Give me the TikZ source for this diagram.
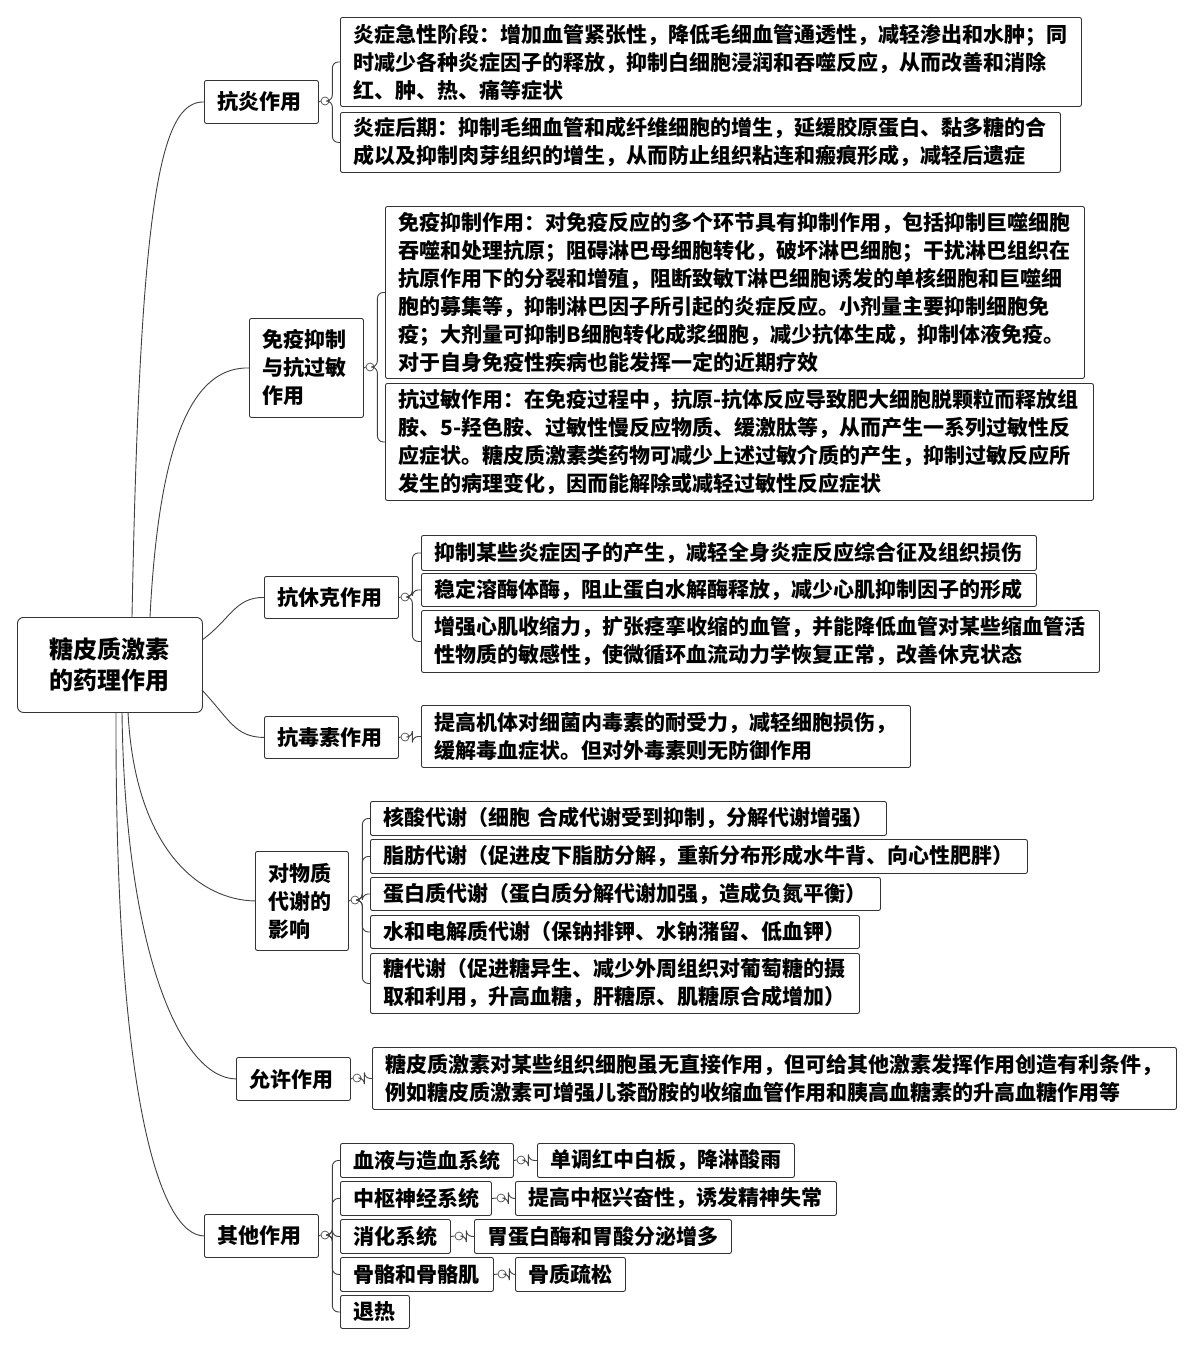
\documentclass[tikz,border=0pt]{standalone}
\usepackage{fontspec}
\setmainfont{Noto Sans CJK SC}
\begin{document}
\begin{tikzpicture}[x=1pt,y=-1pt,
  box/.style={draw=black!80,line width=0.9pt,rounded corners=2pt,inner xsep=13pt,inner ysep=0pt,align=left,font=\fontsize{21}{28}\selectfont\bfseries},
  dot/.style={circle,draw=black!70,line width=0.7pt,inner sep=0pt,minimum size=8pt,fill=white},
  con/.style={draw=black!75,line width=0.9pt}]
\useasboundingbox (0,0) rectangle (1193,1345);
\newcommand\leaf[6]{\pgfmathsetmacro\lw{#4-#2}\pgfmathsetmacro\lh{#5-#3}\pgfmathsetmacro\tw{#4-#2-26}%
\node[box,minimum width=\lw pt,minimum height=\lh pt,text width=\tw pt,anchor=north west] (#1) at (#2,#3) {#6};}
% root
\node[draw=black!80,line width=0.9pt,rounded corners=6pt,minimum width=185pt,minimum height=95pt,align=center,font=\fontsize{24}{31}\selectfont\bfseries,anchor=north west] (root) at (17,617) {糖皮质激素\\的药理作用};
% level 1
\leaf{k1}{204}{80}{318}{123}{抗炎作用}
\leaf{k2}{249}{318}{363}{417}{免疫抑制\\与抗过敏\\作用}
\leaf{k3}{264}{576}{398}{618}{抗休克作用}
\leaf{k4}{264}{716}{398}{758}{抗毒素作用}
\leaf{k5}{255}{851}{348}{950}{对物质\\代谢的\\影响}
\leaf{k6}{236}{1057}{350}{1100}{允许作用}
\leaf{k7}{204}{1214}{318}{1257}{其他作用}
% leaves
\leaf{a}{340}{17}{1081}{106}{炎症急性阶段：增加血管紧张性，降低毛细血管通透性，减轻渗出和水肿；同\\时减少各种炎症因子的释放，抑制白细胞浸润和吞噬反应，从而改善和消除\\红、肿、热、痛等症状}
\leaf{b}{340}{112}{1060}{172}{炎症后期：抑制毛细血管和成纤维细胞的增生，延缓胶原蛋白、黏多糖的合\\成以及抑制肉芽组织的增生，从而防止组织粘连和瘢痕形成，减轻后遗症}
\leaf{c}{385}{206}{1084}{378}{免疫抑制作用：对免疫反应的多个环节具有抑制作用，包括抑制巨噬细胞\\吞噬和处理抗原；阻碍淋巴母细胞转化，破坏淋巴细胞；干扰淋巴组织在\\抗原作用下的分裂和增殖，阻断致敏T淋巴细胞诱发的单核细胞和巨噬细\\胞的募集等，抑制淋巴因子所引起的炎症反应。小剂量主要抑制细胞免\\疫；大剂量可抑制B细胞转化成浆细胞，减少抗体生成，抑制体液免疫。\\对于自身免疫性疾病也能发挥一定的近期疗效}
\leaf{d}{385}{383}{1093}{500}{抗过敏作用：在免疫过程中，抗原-抗体反应导致肥大细胞脱颗粒而释放组\\胺、5-羟色胺、过敏性慢反应物质、缓激肽等，从而产生一系列过敏性反\\应症状。糖皮质激素类药物可减少上述过敏介质的产生，抑制过敏反应所\\发生的病理变化，因而能解除或减轻过敏性反应症状}
\leaf{e}{421}{535}{1036}{570}{抑制某些炎症因子的产生，减轻全身炎症反应综合征及组织损伤}
\leaf{f}{421}{573}{1036}{606}{稳定溶酶体酶，阻止蛋白水解酶释放，减少心肌抑制因子的形成}
\leaf{g}{421}{610}{1099}{672}{增强心肌收缩力，扩张痉挛收缩的血管，并能降低血管对某些缩血管活\\性物质的敏感性，使微循环血流动力学恢复正常，改善休克状态}
\leaf{h}{421}{705}{910}{767}{提高机体对细菌内毒素的耐受力，减轻细胞损伤，\\缓解毒血症状。但对外毒素则无防御作用}
\leaf{i}{370}{801}{886}{835}{核酸代谢（细胞 合成代谢受到抑制，分解代谢增强）}
\leaf{j}{370}{839}{1027}{873}{脂肪代谢（促进皮下脂肪分解，重新分布形成水牛背、向心性肥胖）}
\leaf{k}{370}{877}{880}{910}{蛋白质代谢（蛋白质分解代谢加强，造成负氮平衡）}
\leaf{l}{370}{915}{859}{948}{水和电解质代谢（保钠排钾、水钠潴留、低血钾）}
\leaf{m}{370}{953}{859}{1013}{糖代谢（促进糖异生、减少外周组织对葡萄糖的摄\\取和利用，升高血糖，肝糖原、肌糖原合成增加）}
\leaf{n}{372}{1047}{1176}{1109}{糖皮质激素对某些组织细胞虽无直接作用，但可给其他激素发挥作用创造有利条件，\\例如糖皮质激素可增强儿茶酚胺的收缩血管作用和胰高血糖素的升高血糖作用等}
\leaf{o}{340}{1143}{513}{1177}{血液与造血系统}
\leaf{p}{537}{1143}{794}{1177}{单调红中白板，降淋酸雨}
\leaf{q}{340}{1181}{491}{1215}{中枢神经系统}
\leaf{r}{515}{1181}{836}{1215}{提高中枢兴奋性，诱发精神失常}
\leaf{s}{340}{1219}{450}{1253}{消化系统}
\leaf{t}{474}{1219}{731}{1253}{胃蛋白酶和胃酸分泌增多}
\leaf{u}{340}{1257}{493}{1291}{骨骼和骨骼肌}
\leaf{v}{515}{1257}{625}{1291}{骨质疏松}
\leaf{w}{340}{1295}{409}{1328}{退热}
% root connectors
\draw[con] (132,617) .. controls (140,200) and (160,101) .. (k1.west);
\draw[con] (150,617) .. controls (160,420) and (200,367) .. (k2.west);
\draw[con] (202,640) .. controls (230,620) and (235,597) .. (k3.west);
\draw[con] (202,690) .. controls (230,720) and (235,737) .. (k4.west);
\draw[con] (128,712) .. controls (135,850) and (200,900) .. (k5.west);
\draw[con] (122,712) .. controls (125,950) and (180,1078) .. (k6.west);
\draw[con] (116,712) .. controls (115,1100) and (160,1235) .. (k7.west);
% dots
\node[dot] (c1) at (325,101) {};
\node[dot] (c2) at (370,367) {};
\node[dot] (c3) at (405,597) {};
\node[dot] (c4) at (405,737) {};
\node[dot] (c5) at (355,900) {};
\node[dot] (c6) at (357,1078) {};
\node[dot] (c7) at (325,1235) {};
\node[dot] (d1) at (521,1160) {};
\node[dot] (d2) at (501,1198) {};
\node[dot] (d3) at (459,1236) {};
\node[dot] (d4) at (502,1274) {};
\foreach \p/\c in {k1/c1,k2/c2,k3/c3,k4/c4,k5/c5,k6/c6,k7/c7,o/d1,q/d2,s/d3,u/d4}
  \draw[con] (\p.east) -- (\c.west);
\foreach \c/\ch in {c1/a,c1/b,c2/c,c2/d,c3/e,c3/f,c3/g,c4/h,c5/i,c5/j,c5/k,c5/l,c5/m,c6/n,c7/o,c7/q,c7/s,c7/u,c7/w,d1/p,d2/r,d3/t,d4/v}
  \draw[con,rounded corners=6pt] (\c.east) -- ++(3,0) |- (\ch.west);
\end{tikzpicture}
\end{document}
